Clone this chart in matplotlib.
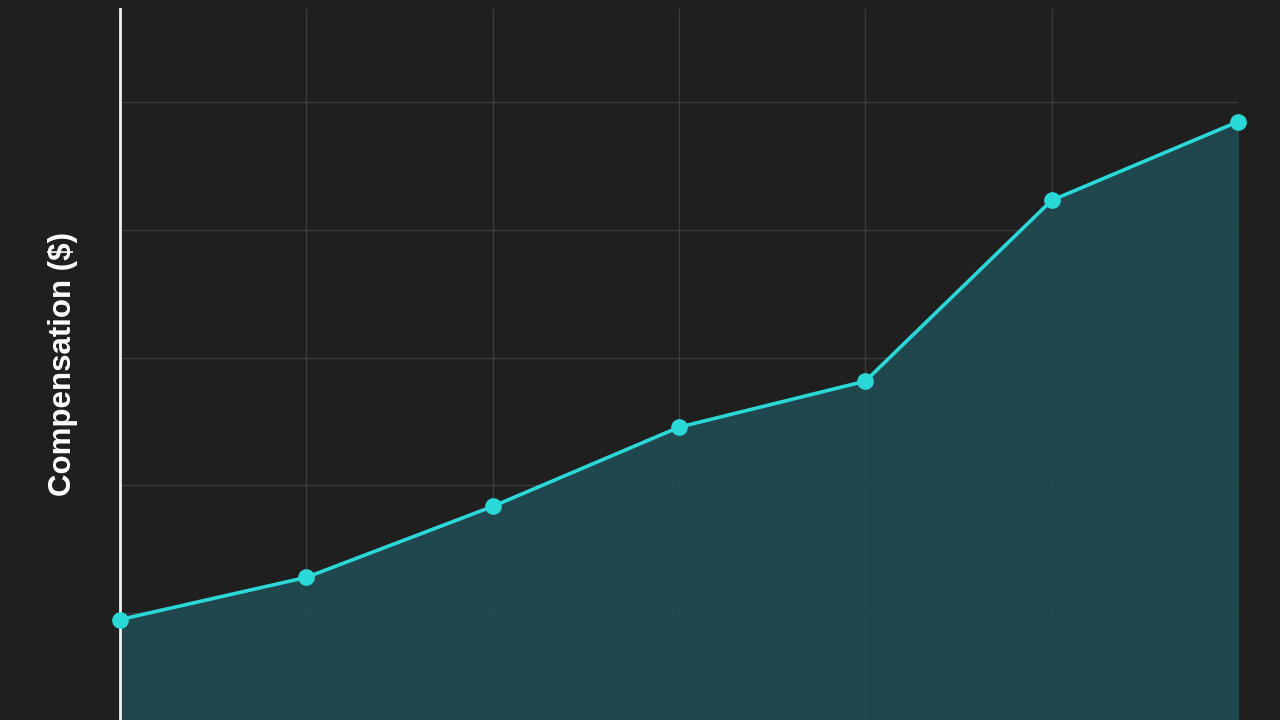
import matplotlib.pyplot as plt

# values (no tick labels are shown)
periods = [0, 1, 2, 3, 4, 5, 6]
compensation = [59500, 62800, 68350, 74550, 78150, 92300, 98450]
y_ticks = [60000, 70000, 80000, 90000, 100000]

bg = '#1f1f1f'
line_color = '#2ad8d8'
fill_color = '#214a50'

fig = plt.figure(figsize=(12.8, 7.2), dpi=100, facecolor=bg)
ax = fig.add_axes([120 / 1280, 0.0, (1238 - 120) / 1280, 1 - 9 / 720])
ax.set_facecolor(bg)

y_min, y_max = 51640, 107270
ax.fill_between(periods, compensation, y_min, color=fill_color, alpha=0.95, zorder=2)
ax.plot(periods, compensation, color=line_color, linewidth=2.6, marker='o',
        markersize=11, zorder=3, clip_on=False)

ax.set_xlim(periods[0], periods[-1])
ax.set_ylim(y_min, y_max)
ax.set_xticks(periods)
ax.set_yticks(y_ticks)
ax.tick_params(length=0, labelleft=False, labelbottom=False)
ax.grid(True, color='#3b3b3b', linewidth=1.0, zorder=1)
ax.set_axisbelow(True)

for side in ['top', 'right', 'bottom']:
    ax.spines[side].set_visible(False)
ax.spines['left'].set_color('#f0f0f0')
ax.spines['left'].set_linewidth(2)

ax.set_ylabel('Compensation ($)', color='white', fontsize=22.5, fontweight='bold',
              family='Liberation Sans', labelpad=30)

plt.savefig('out.png', dpi=100, facecolor=bg)
